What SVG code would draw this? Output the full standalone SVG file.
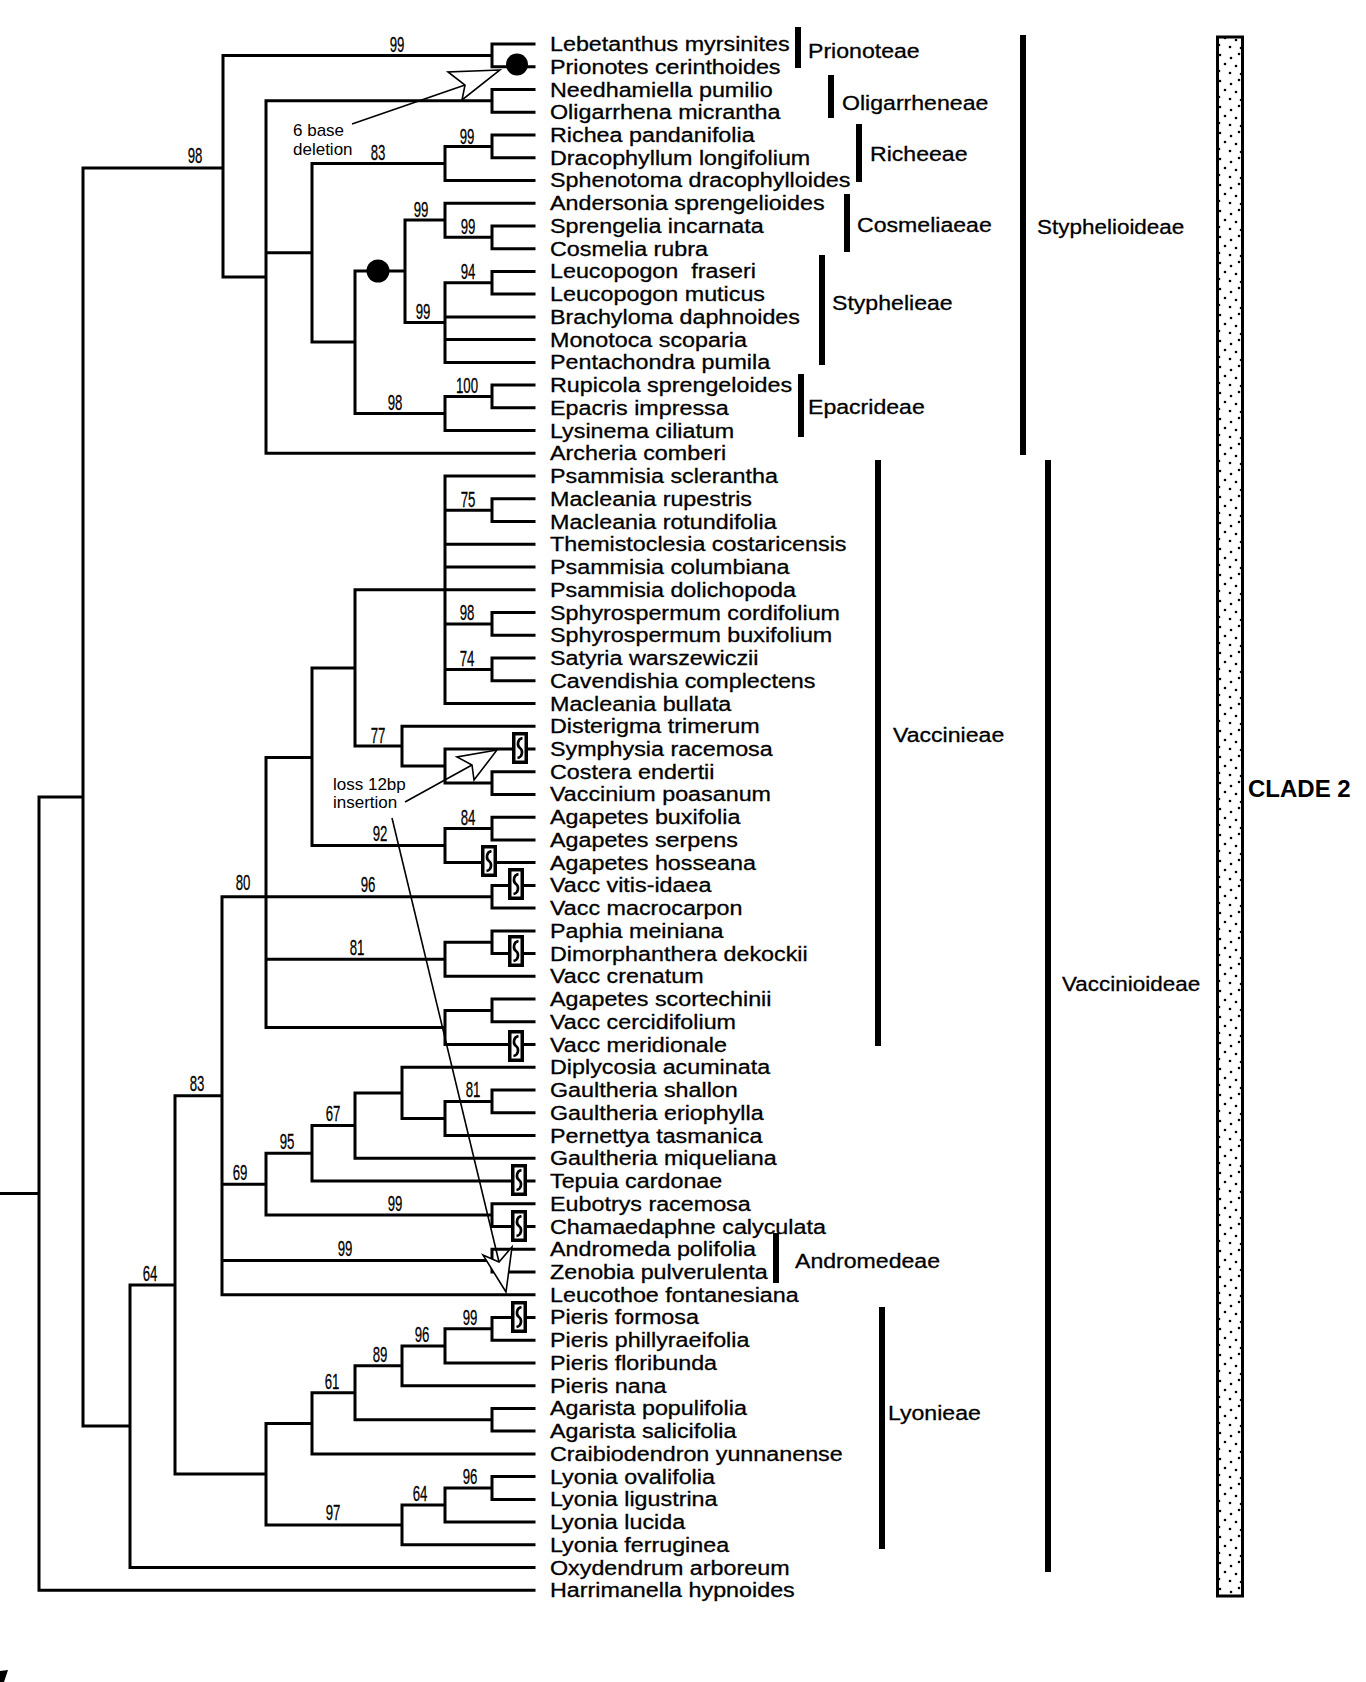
<svg xmlns="http://www.w3.org/2000/svg" width="1366" height="1682" viewBox="0 0 1366 1682">
<style>
.br{stroke:#000;stroke-width:3;fill:none;stroke-linecap:square}
.thin{stroke:#000;stroke-width:1.6;fill:none}
.ah{stroke:#000;stroke-width:1.6;fill:#fff;stroke-linejoin:miter}
.sp{font-family:"Liberation Sans",Arial,sans-serif;font-size:21px;fill:#000;stroke:#000;stroke-width:0.3}
.bs{font-family:"Liberation Sans",Arial,sans-serif;font-size:22px;fill:#000;text-anchor:middle;stroke:#000;stroke-width:0.3}
.nt{font-family:"Liberation Sans",Arial,sans-serif;font-size:17px;fill:#000}
.cl{font-family:"Liberation Sans",Arial,sans-serif;font-size:24px;font-weight:bold;fill:#000}
.bar{fill:#000}
</style>
<defs>
<pattern id="stip" patternUnits="userSpaceOnUse" x="1216" y="0" width="28" height="26">
<rect width="28" height="26" fill="#fff"/>
<circle cx="4" cy="3" r="1.3" fill="#000"/><circle cx="15" cy="6" r="1.3" fill="#000"/><circle cx="23" cy="2" r="1.3" fill="#000"/>
<circle cx="9" cy="12" r="1.3" fill="#000"/><circle cx="20" cy="14" r="1.3" fill="#000"/><circle cx="3" cy="19" r="1.3" fill="#000"/>
<circle cx="14" cy="21" r="1.3" fill="#000"/><circle cx="25" cy="22" r="1.3" fill="#000"/>
</pattern>
<g id="ins">
<rect x="-8" y="-16" width="16" height="32" fill="#000"/>
<rect x="-4.5" y="-12.5" width="9" height="25" fill="#fff"/>
<path d="M2.5 -10 C-3 -9 -3 -2 0 0 C3 2 3 9 -2.5 10" stroke="#000" stroke-width="2.6" fill="none"/>
</g>
</defs>
<rect width="1366" height="1682" fill="#fff"/>

<g id="connectors">
<path class="br" d="M492 44H534M492 66.7H534M492 44V66.7
M492 89.5H534M492 112.2H534M492 89.5V112.2
M492 135H534M492 157.7H534M492 135V157.7
M445 180.4H534M445 203.2H534
M492 225.9H534M492 248.7H534M492 225.9V248.7
M492 271.4H534M492 294.1H534M492 271.4V294.1
M445 316.9H534M445 339.6H534M445 362.4H534
M492 385.1H534M492 407.8H534M492 385.1V407.8
M445 430.6H534M266 453.3H534M445 476.1H534
M492 498.8H534M492 521.5H534M492 498.8V521.5
M445 544.3H534M445 567H534M355 589.8H534
M492 612.5H534M492 635.2H534M492 612.5V635.2
M492 658H534M492 680.7H534M492 658V680.7
M445 703.5H534M402 726.2H534M445 748.9H534
M492 771.7H534M492 794.4H534M492 771.7V794.4
M492 817.2H534M492 839.9H534M492 817.2V839.9
M445 862.6H534
M492 885.4H534M492 908.1H534M492 885.4V908.1
M492 930.9H534M492 953.6H534M492 930.9V953.6
M445 976.3H534
M492 999.1H534M492 1021.8H534M492 999.1V1021.8
M445 1044.6H534M402 1067.3H534
M492 1090H534M492 1112.8H534M492 1090V1112.8
M445 1135.5H534M355 1158.3H534M312 1181H534
M492 1203.7H534M492 1226.5H534M492 1203.7V1226.5
M492 1249.2H534M492 1272H534M492 1249.2V1272
M222 1294.7H534
M492 1317.4H534M492 1340.2H534M492 1317.4V1340.2
M445 1362.9H534M402 1385.7H534
M492 1408.4H534M492 1431.1H534M492 1408.4V1431.1
M312 1453.9H534
M492 1476.6H534M492 1499.4H534M492 1476.6V1499.4
M445 1522.1H534M402 1544.8H534M130 1567.6H534M39 1590.3H534
M0 1193.6H39M39 797V1590.3M39 797H83
M83 168V1426M83 168H223M83 1426H130
M223 55.4V277M223 55.4H492M223 277H266
M266 100.8V453.3M266 100.8H492M266 252.7H312
M312 163.4V342M312 163.4H445M312 342H355
M445 146.4V180.4M445 146.4H492
M355 271V413.6M355 271H405M355 413.6H445
M405 220V322.6M405 220H445M405 322.6H445
M445 203.2V237.3M445 237.3H492
M445 282.8V362.4M445 282.8H492
M445 396.5V430.6M445 396.5H492
M130 1285V1567.6M130 1285H175
M175 1095.7V1474M175 1095.7H222M175 1474H266
M222 896.7V1294.7M222 896.7H266M222 1184.2H266M222 1260.6H492
M266 757.5V1027.5M266 757.5H312M266 896.7H492M266 959.3H445M266 1027.5H445
M312 668V845.6M312 668H355M312 845.6H445
M355 589.8V746M355 746H402
M445 476.1V703.5M445 510.2H492M445 623.9H492M445 669.4H492
M402 726.2V766M402 766H445
M445 748.9V783M445 783H492
M445 828.5V862.6M445 828.5H492
M445 942.2V976.3M445 942.2H492
M445 1010.5V1044.6M445 1010.5H492
M266 1153.3V1215.1M266 1153.3H312M266 1215.1H492
M312 1125.6V1181M312 1125.6H355
M355 1092.9V1158.3M355 1092.9H402
M402 1067.3V1118.5M402 1118.5H445
M445 1101.4V1135.5M445 1101.4H492
M266 1423.4V1525M266 1423.4H312M266 1525H402
M312 1392.8V1453.9M312 1392.8H355
M355 1365.8V1419.8M355 1365.8H402M355 1419.8H492
M402 1345.9V1385.7M402 1345.9H445
M445 1328.8V1362.9M445 1328.8H492
M402 1505V1544.8M402 1505H445
M445 1488V1522.1M445 1488H492"/>
<circle cx="517" cy="64.5" r="11" fill="#000"/>
<circle cx="378" cy="271" r="11.5" fill="#000"/>
<line class="thin" x1="352" y1="124" x2="465" y2="85"/>
<polygon class="ah" points="500,70 448,72 465,85 462,100"/>
<line class="thin" x1="405" y1="802" x2="472" y2="765"/>
<polygon class="ah" points="497,750 457,757 472,765 474,780"/>
<line class="thin" x1="392" y1="818" x2="499" y2="1262"/>
<polygon class="ah" points="506,1292 483,1255 499,1262 512,1247"/>
</g>

<g id="bootstrap">
<text class="bs" transform="translate(195 163) scale(0.6 1)">98</text>
<text class="bs" transform="translate(397 52) scale(0.6 1)">99</text>
<text class="bs" transform="translate(378 160) scale(0.6 1)">83</text>
<text class="bs" transform="translate(467 144) scale(0.6 1)">99</text>
<text class="bs" transform="translate(421 217) scale(0.6 1)">99</text>
<text class="bs" transform="translate(468 234) scale(0.6 1)">99</text>
<text class="bs" transform="translate(468 279) scale(0.6 1)">94</text>
<text class="bs" transform="translate(423 319) scale(0.6 1)">99</text>
<text class="bs" transform="translate(467 393) scale(0.6 1)">100</text>
<text class="bs" transform="translate(395 410) scale(0.6 1)">98</text>
<text class="bs" transform="translate(468 507) scale(0.6 1)">75</text>
<text class="bs" transform="translate(467 620) scale(0.6 1)">98</text>
<text class="bs" transform="translate(467 666) scale(0.6 1)">74</text>
<text class="bs" transform="translate(378 743) scale(0.6 1)">77</text>
<text class="bs" transform="translate(380 841) scale(0.6 1)">92</text>
<text class="bs" transform="translate(468 825) scale(0.6 1)">84</text>
<text class="bs" transform="translate(243 890) scale(0.6 1)">80</text>
<text class="bs" transform="translate(368 892) scale(0.6 1)">96</text>
<text class="bs" transform="translate(357 955) scale(0.6 1)">81</text>
<text class="bs" transform="translate(197 1091) scale(0.6 1)">83</text>
<text class="bs" transform="translate(473 1097) scale(0.6 1)">81</text>
<text class="bs" transform="translate(333 1121) scale(0.6 1)">67</text>
<text class="bs" transform="translate(287 1149) scale(0.6 1)">95</text>
<text class="bs" transform="translate(240 1180) scale(0.6 1)">69</text>
<text class="bs" transform="translate(395 1211) scale(0.6 1)">99</text>
<text class="bs" transform="translate(345 1256) scale(0.6 1)">99</text>
<text class="bs" transform="translate(150 1281) scale(0.6 1)">64</text>
<text class="bs" transform="translate(470 1325) scale(0.6 1)">99</text>
<text class="bs" transform="translate(422 1342) scale(0.6 1)">96</text>
<text class="bs" transform="translate(380 1362) scale(0.6 1)">89</text>
<text class="bs" transform="translate(332 1389) scale(0.6 1)">61</text>
<text class="bs" transform="translate(333 1520) scale(0.6 1)">97</text>
<text class="bs" transform="translate(420 1501) scale(0.6 1)">64</text>
<text class="bs" transform="translate(470 1484) scale(0.6 1)">96</text>
</g>

<g id="notes">
<text class="nt" x="293" y="136">6 base</text>
<text class="nt" x="293" y="155">deletion</text>
<text class="nt" x="333" y="790">loss 12bp</text>
<text class="nt" x="333" y="808">insertion</text>
</g>

<g id="icons">
<use href="#ins" x="520" y="748"/>
<use href="#ins" x="489" y="861"/>
<use href="#ins" x="516" y="884"/>
<use href="#ins" x="516" y="951"/>
<use href="#ins" x="516" y="1046"/>
<use href="#ins" x="519" y="1180"/>
<use href="#ins" x="519" y="1226"/>
<use href="#ins" x="519" y="1317"/>
</g>

<g id="taxa">
<g id="t01"><text class="sp" transform="translate(550 51) scale(1.11 1)">Lebetanthus myrsinites</text></g>
<g id="t02"><text class="sp" transform="translate(550 73.7) scale(1.11 1)">Prionotes cerinthoides</text></g>
<g id="t03"><text class="sp" transform="translate(550 96.5) scale(1.11 1)">Needhamiella pumilio</text></g>
<g id="t04"><text class="sp" transform="translate(550 119.2) scale(1.11 1)">Oligarrhena micrantha</text></g>
<g id="t05"><text class="sp" transform="translate(550 142) scale(1.11 1)">Richea pandanifolia</text></g>
<g id="t06"><text class="sp" transform="translate(550 164.7) scale(1.11 1)">Dracophyllum longifolium</text></g>
<g id="t07"><text class="sp" transform="translate(550 187.4) scale(1.11 1)">Sphenotoma dracophylloides</text></g>
<g id="t08"><text class="sp" transform="translate(550 210.2) scale(1.11 1)">Andersonia sprengelioides</text></g>
<g id="t09"><text class="sp" transform="translate(550 232.9) scale(1.11 1)">Sprengelia incarnata</text></g>
<g id="t10"><text class="sp" transform="translate(550 255.7) scale(1.11 1)">Cosmelia rubra</text></g>
<g id="t11"><text class="sp" transform="translate(550 278.4) scale(1.11 1)" xml:space="preserve">Leucopogon  fraseri</text></g>
<g id="t12"><text class="sp" transform="translate(550 301.1) scale(1.11 1)">Leucopogon muticus</text></g>
<g id="t13"><text class="sp" transform="translate(550 323.9) scale(1.11 1)">Brachyloma daphnoides</text></g>
<g id="t14"><text class="sp" transform="translate(550 346.6) scale(1.11 1)">Monotoca scoparia</text></g>
<g id="t15"><text class="sp" transform="translate(550 369.4) scale(1.11 1)">Pentachondra pumila</text></g>
<g id="t16"><text class="sp" transform="translate(550 392.1) scale(1.11 1)">Rupicola sprengeloides</text></g>
<g id="t17"><text class="sp" transform="translate(550 414.8) scale(1.11 1)">Epacris impressa</text></g>
<g id="t18"><text class="sp" transform="translate(550 437.6) scale(1.11 1)">Lysinema ciliatum</text></g>
<g id="t19"><text class="sp" transform="translate(550 460.3) scale(1.11 1)">Archeria comberi</text></g>
<g id="t20"><text class="sp" transform="translate(550 483.1) scale(1.11 1)">Psammisia sclerantha</text></g>
<g id="t21"><text class="sp" transform="translate(550 505.8) scale(1.11 1)">Macleania rupestris</text></g>
<g id="t22"><text class="sp" transform="translate(550 528.5) scale(1.11 1)">Macleania rotundifolia</text></g>
<g id="t23"><text class="sp" transform="translate(550 551.3) scale(1.11 1)">Themistoclesia costaricensis</text></g>
<g id="t24"><text class="sp" transform="translate(550 574) scale(1.11 1)">Psammisia columbiana</text></g>
<g id="t25"><text class="sp" transform="translate(550 596.8) scale(1.11 1)">Psammisia dolichopoda</text></g>
<g id="t26"><text class="sp" transform="translate(550 619.5) scale(1.11 1)">Sphyrospermum cordifolium</text></g>
<g id="t27"><text class="sp" transform="translate(550 642.2) scale(1.11 1)">Sphyrospermum buxifolium</text></g>
<g id="t28"><text class="sp" transform="translate(550 665) scale(1.11 1)">Satyria warszewiczii</text></g>
<g id="t29"><text class="sp" transform="translate(550 687.7) scale(1.11 1)">Cavendishia complectens</text></g>
<g id="t30"><text class="sp" transform="translate(550 710.5) scale(1.11 1)">Macleania bullata</text></g>
<g id="t31"><text class="sp" transform="translate(550 733.2) scale(1.11 1)">Disterigma trimerum</text></g>
<g id="t32"><text class="sp" transform="translate(550 755.9) scale(1.11 1)">Symphysia racemosa</text></g>
<g id="t33"><text class="sp" transform="translate(550 778.7) scale(1.11 1)">Costera endertii</text></g>
<g id="t34"><text class="sp" transform="translate(550 801.4) scale(1.11 1)">Vaccinium poasanum</text></g>
<g id="t35"><text class="sp" transform="translate(550 824.2) scale(1.11 1)">Agapetes buxifolia</text></g>
<g id="t36"><text class="sp" transform="translate(550 846.9) scale(1.11 1)">Agapetes serpens</text></g>
<g id="t37"><text class="sp" transform="translate(550 869.6) scale(1.11 1)">Agapetes hosseana</text></g>
<g id="t38"><text class="sp" transform="translate(550 892.4) scale(1.11 1)">Vacc vitis-idaea</text></g>
<g id="t39"><text class="sp" transform="translate(550 915.1) scale(1.11 1)">Vacc macrocarpon</text></g>
<g id="t40"><text class="sp" transform="translate(550 937.9) scale(1.11 1)">Paphia meiniana</text></g>
<g id="t41"><text class="sp" transform="translate(550 960.6) scale(1.11 1)">Dimorphanthera dekockii</text></g>
<g id="t42"><text class="sp" transform="translate(550 983.3) scale(1.11 1)">Vacc crenatum</text></g>
<g id="t43"><text class="sp" transform="translate(550 1006.1) scale(1.11 1)">Agapetes scortechinii</text></g>
<g id="t44"><text class="sp" transform="translate(550 1028.8) scale(1.11 1)">Vacc cercidifolium</text></g>
<g id="t45"><text class="sp" transform="translate(550 1051.6) scale(1.11 1)">Vacc meridionale</text></g>
<g id="t46"><text class="sp" transform="translate(550 1074.3) scale(1.11 1)">Diplycosia acuminata</text></g>
<g id="t47"><text class="sp" transform="translate(550 1097) scale(1.11 1)">Gaultheria shallon</text></g>
<g id="t48"><text class="sp" transform="translate(550 1119.8) scale(1.11 1)">Gaultheria eriophylla</text></g>
<g id="t49"><text class="sp" transform="translate(550 1142.5) scale(1.11 1)">Pernettya tasmanica</text></g>
<g id="t50"><text class="sp" transform="translate(550 1165.3) scale(1.11 1)">Gaultheria miqueliana</text></g>
<g id="t51"><text class="sp" transform="translate(550 1188) scale(1.11 1)">Tepuia cardonae</text></g>
<g id="t52"><text class="sp" transform="translate(550 1210.7) scale(1.11 1)">Eubotrys racemosa</text></g>
<g id="t53"><text class="sp" transform="translate(550 1233.5) scale(1.11 1)">Chamaedaphne calyculata</text></g>
<g id="t54"><text class="sp" transform="translate(550 1256.2) scale(1.11 1)">Andromeda polifolia</text></g>
<g id="t55"><text class="sp" transform="translate(550 1279) scale(1.11 1)">Zenobia pulverulenta</text></g>
<g id="t56"><text class="sp" transform="translate(550 1301.7) scale(1.11 1)">Leucothoe fontanesiana</text></g>
<g id="t57"><text class="sp" transform="translate(550 1324.4) scale(1.11 1)">Pieris formosa</text></g>
<g id="t58"><text class="sp" transform="translate(550 1347.2) scale(1.11 1)">Pieris phillyraeifolia</text></g>
<g id="t59"><text class="sp" transform="translate(550 1369.9) scale(1.11 1)">Pieris floribunda</text></g>
<g id="t60"><text class="sp" transform="translate(550 1392.7) scale(1.11 1)">Pieris nana</text></g>
<g id="t61"><text class="sp" transform="translate(550 1415.4) scale(1.11 1)">Agarista populifolia</text></g>
<g id="t62"><text class="sp" transform="translate(550 1438.1) scale(1.11 1)">Agarista salicifolia</text></g>
<g id="t63"><text class="sp" transform="translate(550 1460.9) scale(1.11 1)">Craibiodendron yunnanense</text></g>
<g id="t64"><text class="sp" transform="translate(550 1483.6) scale(1.11 1)">Lyonia ovalifolia</text></g>
<g id="t65"><text class="sp" transform="translate(550 1506.4) scale(1.11 1)">Lyonia ligustrina</text></g>
<g id="t66"><text class="sp" transform="translate(550 1529.1) scale(1.11 1)">Lyonia lucida</text></g>
<g id="t67"><text class="sp" transform="translate(550 1551.8) scale(1.11 1)">Lyonia ferruginea</text></g>
<g id="t68"><text class="sp" transform="translate(550 1574.6) scale(1.11 1)">Oxydendrum arboreum</text></g>
<g id="t69"><text class="sp" transform="translate(550 1597.3) scale(1.11 1)">Harrimanella hypnoides</text></g>
</g>

<g id="groups">
<g id="g-prionoteae"><rect class="bar" x="795" y="27" width="6" height="41"/><text class="sp" transform="translate(808 58) scale(1.1 1)">Prionoteae</text></g>
<g id="g-oligarrheneae"><rect class="bar" x="828" y="75" width="6" height="43"/><text class="sp" transform="translate(842 110) scale(1.1 1)">Oligarrheneae</text></g>
<g id="g-richeeae"><rect class="bar" x="856" y="124" width="6" height="58"/><text class="sp" transform="translate(870 161) scale(1.1 1)">Richeeae</text></g>
<g id="g-cosmeliaeae"><rect class="bar" x="844" y="194" width="6" height="58"/><text class="sp" transform="translate(857 232) scale(1.1 1)">Cosmeliaeae</text></g>
<g id="g-styphelieae"><rect class="bar" x="819" y="255" width="6" height="110"/><text class="sp" transform="translate(832 310) scale(1.1 1)">Styphelieae</text></g>
<g id="g-epacrideae"><rect class="bar" x="798" y="374" width="6" height="63"/><text class="sp" transform="translate(808 414) scale(1.1 1)">Epacrideae</text></g>
<g id="g-styphelioideae"><rect class="bar" x="1020" y="35" width="6" height="420"/><text class="sp" transform="translate(1037 234) scale(1.07 1)">Styphelioideae</text></g>
<g id="g-vaccinieae"><rect class="bar" x="875" y="460" width="6" height="586"/><text class="sp" transform="translate(893 742) scale(1.1 1)">Vaccinieae</text></g>
<g id="g-andromedeae"><rect class="bar" x="773" y="1233" width="6" height="50"/><text class="sp" transform="translate(795 1268) scale(1.1 1)">Andromedeae</text></g>
<g id="g-lyonieae"><rect class="bar" x="879" y="1307" width="6" height="242"/><text class="sp" transform="translate(888 1420) scale(1.1 1)">Lyonieae</text></g>
<g id="g-vaccinioideae"><rect class="bar" x="1045" y="460" width="6" height="1112"/><text class="sp" transform="translate(1062 991) scale(1.07 1)">Vaccinioideae</text></g>
<g id="g-clade2"><rect x="1217.5" y="37" width="25" height="1559" fill="url(#stip)" stroke="#000" stroke-width="3"/><text class="cl" x="1248" y="797">CLADE 2</text></g>
</g>
<polygon points="0,1671 8,1670 4,1682 0,1682" fill="#000"/>
</svg>
